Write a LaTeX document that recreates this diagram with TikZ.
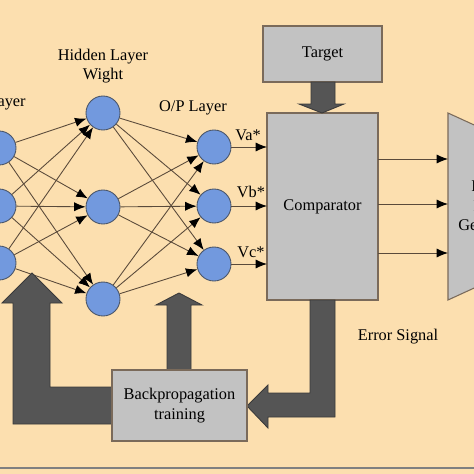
\documentclass[tikz,border=0pt]{standalone}
\usepackage{fontspec}
\setmainfont{Liberation Serif}
\usetikzlibrary{arrows.meta}
\definecolor{bgc}{HTML}{FCDFAF}
\definecolor{neufill}{HTML}{7299DE}
\definecolor{neudraw}{HTML}{4A5568}
\definecolor{boxfill}{HTML}{C2C2C2}
\definecolor{boxdraw}{HTML}{7A6A5A}
\definecolor{bigfill}{HTML}{555555}
\definecolor{bigdraw}{HTML}{3A3A3A}
\definecolor{linec}{HTML}{5A4A3A}
\begin{document}
\begin{tikzpicture}[x=0.02cm,y=-0.02cm,
  font=\fontsize{9.3}{11}\selectfont,
  neuron/.style={circle,fill=neufill,draw=neudraw,line width=0.5pt,minimum size=0.68cm,inner sep=0pt},
  graybox/.style={rectangle,fill=boxfill,draw=boxdraw,line width=0.6pt,inner sep=0pt,align=center},
  conn/.style={draw=linec,line width=0.5pt,-{Latex[length=6.5pt,width=5.2pt,color=black]}},
  bigarrow/.style={fill=bigfill,draw=bigdraw,line width=0.5pt},
  lbl/.style={inner sep=0pt,align=center}]
\clip (0,0) rectangle (474,474);
\fill[bgc] (0,0) rectangle (474,474);
\draw[gray,line width=0.6pt] (0,468) -- (474,468);

% neurons
\node[neuron] (i1) at (-1,148) {};
\node[neuron] (i2) at (-1,206) {};
\node[neuron] (i3) at (-1,263) {};
\node[neuron] (h1) at (103,113) {};
\node[neuron] (h2) at (103,207) {};
\node[neuron] (h3) at (103,299) {};
\node[neuron] (o1) at (214,147) {};
\node[neuron] (o2) at (214,206) {};
\node[neuron] (o3) at (214,264) {};

\foreach \a in {i1,i2,i3}{\foreach \b in {h1,h2,h3}{\draw[conn] (\a) -- (\b);}}
\foreach \a in {h1,h2,h3}{\foreach \b in {o1,o2,o3}{\draw[conn] (\a) -- (\b);}}

% labels
\node[lbl,anchor=east] (tin) at (26,103) {I/P Layer};
\node[lbl] (thid) at (103,57) {Hidden Layer};
\node[lbl] (twig) at (103,76) {Wight};
\node[lbl] (tout) at (193,108) {O/P Layer};
\node[lbl] (tva) at (248,135) {Va*};
\node[lbl] (tvb) at (251,192) {Vb*};
\node[lbl] (tvc) at (251,252) {Vc*};
\node[lbl] (terr) at (398,337) {Error Signal};

% boxes
\node[graybox,minimum width=2.38cm,minimum height=1.12cm] (target) at (322.5,54) {Target};
\node[graybox,minimum width=2.22cm,minimum height=3.74cm] (comp) at (322.5,206.5) {Comparator};

% generator trapezoid
\filldraw[fill=boxfill,draw=boxdraw,line width=0.6pt] (448,113) -- (520,146) -- (520,267) -- (448,300) -- cycle;
\node[lbl] (gen) at (491,206) {PWM\\Pulse\\Generator};

% output arrows
\coordinate (va) at (267,147);
\coordinate (vb) at (267,206);
\coordinate (vc) at (267,264);
\draw[conn] (o1) -- (va);
\draw[conn] (o2) -- (vb);
\draw[conn] (o3) -- (vc);
\coordinate (ca) at (378,159); \coordinate (ga) at (448,159);
\coordinate (cb) at (378,204); \coordinate (gb) at (448,204);
\coordinate (cc) at (378,253); \coordinate (gc) at (448,253);
\draw[conn] (ca) -- (ga);
\draw[conn] (cb) -- (gb);
\draw[conn] (cc) -- (gc);

% thick arrows
\draw[bigarrow] (311,82) -- (335,82) -- (335,104) -- (344,104) -- (322,113) -- (299,104) -- (311,104) -- cycle;
\draw[bigarrow] (310,300) -- (335,300) -- (335,417) -- (268,417) -- (268,428) -- (247,406) -- (268,385) -- (268,393) -- (310,393) -- cycle;
\draw[bigarrow] (113,387) -- (50,387) -- (50,303) -- (62,303) -- (32,273) -- (2,303) -- (13,303) -- (13,424) -- (113,424) -- cycle;
\draw[bigarrow] (167,371) -- (167,305) -- (156,305) -- (179,293) -- (202,305) -- (191,305) -- (191,371) -- cycle;

\node[graybox,minimum width=2.7cm,minimum height=1.42cm] (bp) at (179.5,405.5) {Backpropagation\\training};
\end{tikzpicture}
\end{document}
